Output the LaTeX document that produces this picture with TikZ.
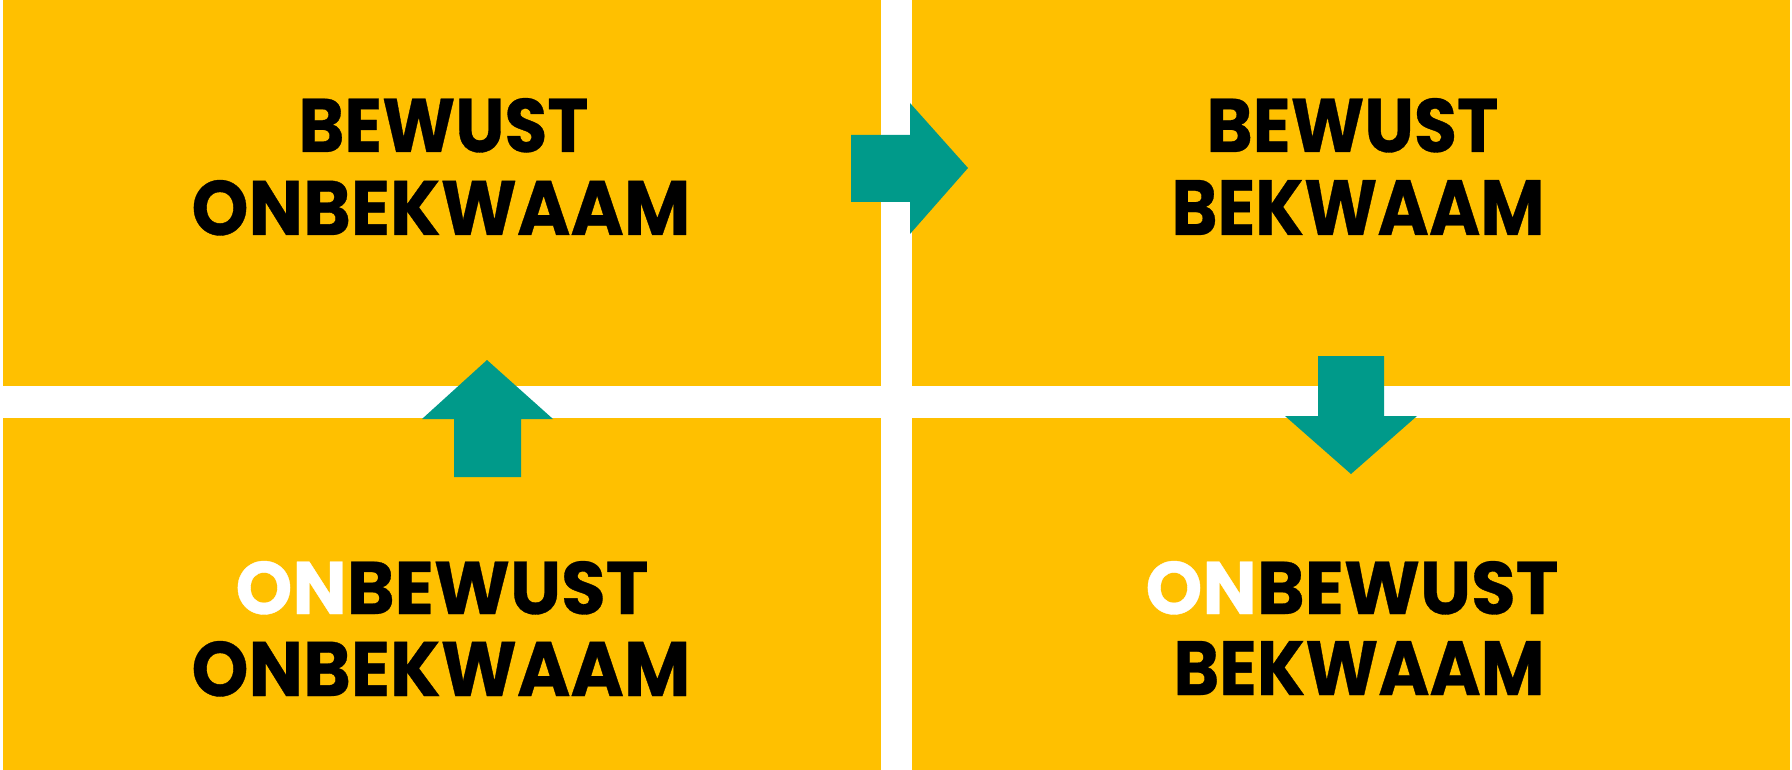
\documentclass[tikz,border=0pt]{standalone}
\usepackage{fontspec}
\usepackage{graphicx}
\newfontfamily\popb{Poppins Bold}[FakeBold=0.45]
\definecolor{quadyellow}{HTML}{FFC000}
\definecolor{arrowteal}{HTML}{009A8A}
\newcommand{\fitword}[3]{\resizebox{#1pt}{#2pt}{\popb\fontsize{76}{76}\selectfont #3}}
\begin{document}
\begin{tikzpicture}[x=1pt,y=-1pt,
  quad/.style={fill=quadyellow,draw=none},
  bigarrow/.style={fill=arrowteal,draw=none},
  lbl/.style={anchor=base,inner sep=0pt,outer sep=0pt,text=black}]
\fill[white] (0,0) rectangle (1792,770);
\useasboundingbox (0,0) rectangle (1792,770);
% quadrants
\fill[quad] (3,0) rectangle (881,386);
\fill[quad] (912,0) rectangle (1790,386);
\fill[quad] (3,418) rectangle (881,770);
\fill[quad] (912,418) rectangle (1790,770);
% labels
\node[lbl] (tl1) at (443.5,152) {\fitword{290}{54}{BEWUST}};
\node[lbl] (tl2) at (441,235) {\fitword{499}{55}{ONBEKWAAM}};
\node[lbl] (tr1) at (1352.5,152) {\fitword{292}{54}{BEWUST}};
\node[lbl] (tr2) at (1358,235) {\fitword{373}{55}{BEKWAAM}};
\node[lbl] (bl1) at (442,614) {\fitword{413}{53}{\textcolor{white}{ON}BEWUST}};
\node[lbl] (bl2) at (441,696) {\fitword{499}{55}{ONBEKWAAM}};
\node[lbl] (br1) at (1352,614) {\fitword{413}{53}{\textcolor{white}{ON}BEWUST}};
\node[lbl] (br2) at (1359,695) {\fitword{371}{54}{BEKWAAM}};
% arrows
\fill[bigarrow] (851,135) -- (910,135) -- (910,103) -- (968,168) -- (910,234) -- (910,202) -- (851,202) -- cycle;
\fill[bigarrow] (454,477) -- (454,419) -- (422,419) -- (487,360) -- (553,419) -- (521,419) -- (521,477) -- cycle;
\fill[bigarrow] (1318,356) -- (1384,356) -- (1384,416) -- (1417,416) -- (1351,474) -- (1285,416) -- (1318,416) -- cycle;
\end{tikzpicture}
\end{document}
